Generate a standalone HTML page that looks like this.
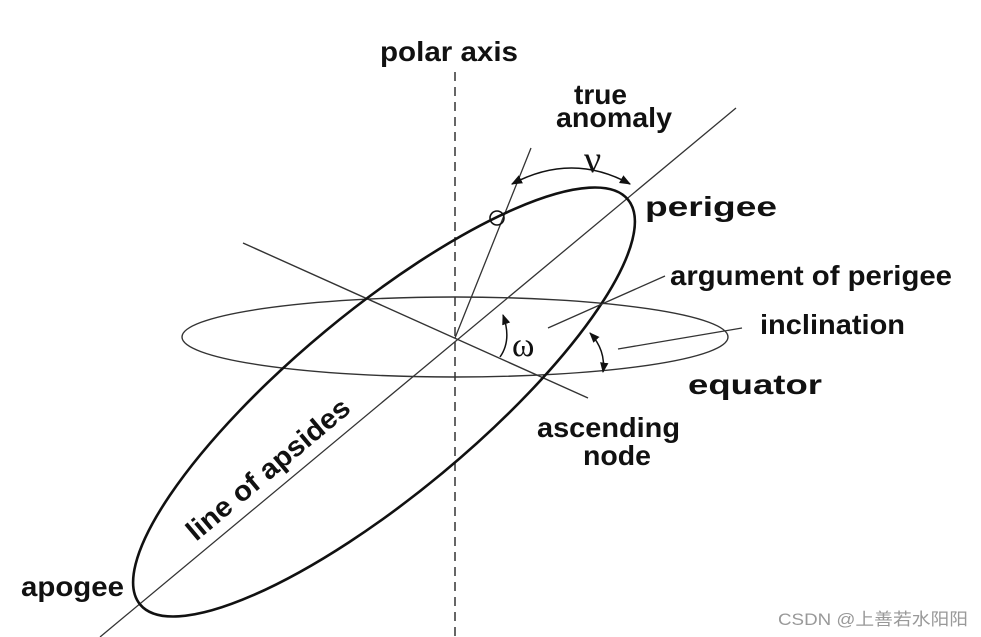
<!DOCTYPE html>
<html><head><meta charset="utf-8"><style>
html,body{margin:0;padding:0;background:#fff;overflow:hidden;width:981px;height:637px;}
svg{display:block}
text{font-family:"Liberation Sans",sans-serif;font-weight:bold;fill:#111;}
</style></head><body>
<svg width="981" height="637" viewBox="0 0 981 637" xmlns="http://www.w3.org/2000/svg">
<defs>
<marker id="a" viewBox="0 0 10 10" refX="9" refY="5" markerWidth="7" markerHeight="7" orient="auto-start-reverse"><path d="M0,1 L10,5 L0,9 z" fill="#111"/></marker>
</defs>
<g fill="none" stroke="#333">
<line x1="455" y1="72" x2="455" y2="637" stroke-dasharray="9,6" stroke-width="1.5"/>
<ellipse cx="455" cy="337" rx="273" ry="40" stroke-width="1.4"/>
<line x1="243" y1="243" x2="588" y2="398" stroke-width="1.4"/>
<line x1="100" y1="637" x2="736" y2="108" stroke-width="1.3"/>
<line x1="455" y1="338" x2="531" y2="148" stroke-width="1.3"/>
<ellipse cx="384" cy="402" rx="317" ry="92" transform="rotate(-39.7 384 402)" stroke="#111" stroke-width="2.6"/>
<circle cx="497" cy="218" r="7" stroke="#111" stroke-width="1.6"/>
<path d="M512,184 Q572,152 630,184" stroke="#111" stroke-width="1.6" marker-start="url(#a)" marker-end="url(#a)"/>
<path d="M500,357 Q512,340 503,315" stroke="#111" stroke-width="1.5" marker-end="url(#a)"/>
<path d="M590,333 Q606,350 603,372" stroke="#111" stroke-width="1.5" marker-start="url(#a)" marker-end="url(#a)"/>
<line x1="548" y1="328" x2="665" y2="276" stroke-width="1.3"/>
<line x1="618" y1="349" x2="742" y2="328" stroke-width="1.3"/>
</g>
<g font-size="28">
<text x="380" y="61" textLength="138" lengthAdjust="spacingAndGlyphs">polar axis</text>
<text x="574" y="104" textLength="53" lengthAdjust="spacingAndGlyphs">true</text>
<text x="556" y="127" textLength="116" lengthAdjust="spacingAndGlyphs">anomaly</text>
<text x="645" y="216" textLength="132" lengthAdjust="spacingAndGlyphs">perigee</text>
<text x="670" y="285" textLength="282" lengthAdjust="spacingAndGlyphs">argument of perigee</text>
<text x="760" y="334" textLength="145" lengthAdjust="spacingAndGlyphs">inclination</text>
<text x="688" y="394" textLength="134" lengthAdjust="spacingAndGlyphs">equator</text>
<text x="537" y="437" textLength="143" lengthAdjust="spacingAndGlyphs">ascending</text>
<text x="583" y="465" textLength="68" lengthAdjust="spacingAndGlyphs">node</text>
<text x="21" y="596" textLength="103" lengthAdjust="spacingAndGlyphs">apogee</text>
<text x="0" y="0" textLength="204" lengthAdjust="spacingAndGlyphs" transform="translate(196,542) rotate(-40)">line of apsides</text>
</g>
<text x="584" y="172" font-size="38" style="font-family:'Liberation Serif',serif;font-weight:normal">ν</text>
<text x="512" y="356" font-size="34" style="font-family:'Liberation Serif',serif;font-weight:normal">ω</text>
<text x="778" y="625" font-size="17" textLength="190" lengthAdjust="spacingAndGlyphs" style="font-family:'Liberation Sans','Noto Sans CJK SC',sans-serif;font-weight:normal;fill:#999">CSDN @上善若水阳阳</text>
</svg>
</body></html>
